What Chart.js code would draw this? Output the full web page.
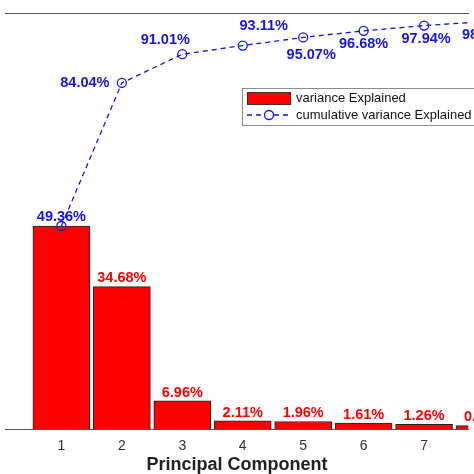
<!DOCTYPE html>
<html>
<head>
<script src="https://cdn.jsdelivr.net/npm/chart.js@4"></script>
<style>
  body { margin: 0; background: #fff; }
  #wrap { width: 474px; height: 474px; }
</style>
</head>
<body>
<div id="wrap"><canvas id="chart"></canvas></div>
<script>
const components = [1, 2, 3, 4, 5, 6, 7, 8];
const varianceExplained = [49.36, 34.68, 6.96, 2.11, 1.96, 1.61, 1.26, 0.98];
const cumulativeVariance = [49.36, 84.04, 91.01, 93.11, 95.07, 96.68, 97.94, 98.92];
const xTicks = [1, 2, 3, 4, 5, 6, 7];

const red = '#ff0000';
const blue = '#1414e6';

// label offsets for the cumulative line labels [dx, dy]
const cumOffsets = [[0, -9], [-37, 0], [-17, -14], [21, -20], [8, 18], [0, 13], [2, 13], [2, 13]];

const labelsPlugin = {
  id: 'labels',
  afterDatasetsDraw(chart) {
    const ctx = chart.ctx;
    const x = chart.scales.x, y = chart.scales.y;
    ctx.save();
    ctx.font = 'bold 14.5px "Liberation Sans", Arial';
    ctx.textAlign = 'center';
    ctx.textBaseline = 'bottom';
    ctx.fillStyle = red;
    varianceExplained.forEach((v, i) => {
      if (i === 0) return;
      ctx.fillText(v.toFixed(2) + '%', x.getPixelForValue(components[i]), y.getPixelForValue(v) - 1);
    });
    ctx.textBaseline = 'middle';
    ctx.fillStyle = blue;
    cumulativeVariance.forEach((v, i) => {
      const o = cumOffsets[i];
      ctx.fillText(v.toFixed(2) + '%', x.getPixelForValue(components[i]) + o[0], y.getPixelForValue(v) + o[1]);
    });

    // legend
    ctx.fillStyle = '#fff';
    ctx.strokeStyle = '#8c8c8c';
    ctx.lineWidth = 1;
    ctx.fillRect(242.5, 88.5, 240, 37);
    ctx.strokeRect(242.5, 88.5, 240, 37);
    ctx.fillStyle = red;
    ctx.fillRect(247, 92, 43, 12);
    ctx.strokeStyle = '#333';
    ctx.strokeRect(247.5, 92.5, 43, 12);
    ctx.strokeStyle = blue;
    ctx.lineWidth = 1.3;
    ctx.setLineDash([5, 4]);
    ctx.beginPath(); ctx.moveTo(247, 115); ctx.lineTo(291, 115); ctx.stroke();
    ctx.setLineDash([]);
    ctx.beginPath(); ctx.arc(269, 115, 4.5, 0, Math.PI * 2);
    ctx.fillStyle = '#fff'; ctx.fill(); ctx.stroke();
    ctx.fillStyle = '#111';
    ctx.font = '13px "Liberation Sans", Arial';
    ctx.textAlign = 'left';
    ctx.fillText('variance Explained', 296, 98);
    ctx.fillText('cumulative variance Explained', 296, 115);
    ctx.restore();
  }
};

new Chart(document.getElementById('chart').getContext('2d'), {
  data: {
    datasets: [
      {
        type: 'line',
        label: 'cumulative variance Explained',
        data: components.map((c, i) => ({ x: c, y: cumulativeVariance[i] })),
        borderColor: blue,
        borderWidth: 1.3,
        borderDash: [5, 4],
        pointRadius: 4.5,
        pointBackgroundColor: 'rgba(0,0,0,0)',
        pointBorderColor: blue,
        pointBorderWidth: 1.3,
        order: 0,
      },
      {
        type: 'bar',
        label: 'variance Explained',
        data: components.map((c, i) => ({ x: c, y: varianceExplained[i] })),
        backgroundColor: red,
        borderColor: '#222',
        borderWidth: 1,
        barThickness: 57,
        order: 1,
      },
    ],
  },
  options: {
    responsive: true,
    maintainAspectRatio: false,
    animation: false,
    layout: { padding: { left: -5, right: 0, top: 5, bottom: 0 } },
    plugins: { legend: { display: false }, tooltip: { enabled: false } },
    scales: {
      x: {
        type: 'linear',
        offset: false,
        min: 0.08,
        max: 7.73,
        afterBuildTicks: (axis) => { axis.ticks = xTicks.map((v) => ({ value: v })); },
        grid: { display: false, drawTicks: true },
        border: { color: '#555', width: 1 },
        ticks: { color: '#333', font: { size: 14, family: '"Liberation Sans", Arial' }, padding: 0 },
        title: {
          display: true,
          text: 'Principal Component',
          color: '#222',
          font: { size: 18, weight: 'bold', family: '"Liberation Sans", Arial' },
          padding: { top: 0, bottom: -2 },
        },
      },
      xTop: {
        type: 'linear',
        position: 'top',
        offset: false,
        min: 0.08,
        max: 7.73,
        ticks: { display: false },
        grid: { display: false },
        border: { color: '#555', width: 1 },
      },
      y: {
        min: 0,
        max: 101,
        display: false,
      },
    },
  },
  plugins: [labelsPlugin],
});
</script>
</body>
</html>
